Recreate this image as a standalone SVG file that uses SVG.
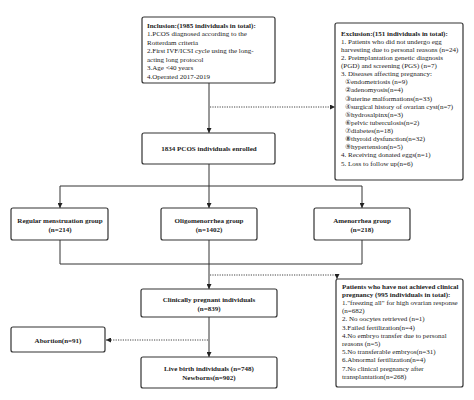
<svg xmlns="http://www.w3.org/2000/svg" width="474" height="400" viewBox="0 0 474 400">
<defs>
<marker id="ah" viewBox="0 0 10 10" refX="10" refY="5" markerWidth="5" markerHeight="5" orient="auto" markerUnits="userSpaceOnUse">
<path d="M0,0 L10,5 L0,10 z" fill="#222"/>
</marker>
</defs>
<style>
.box{fill:#fff;stroke:#333;stroke-width:1.2}
.ln{fill:none;stroke:#333;stroke-width:1}
.dt{fill:none;stroke:#444;stroke-width:1;stroke-dasharray:1.2 1.2}
text{font-family:"Liberation Serif","Times New Roman",serif;fill:#222;font-size:7px}
.b{font-weight:bold}
.c{text-anchor:middle}
</style>
<rect width="474" height="400" fill="#fff"/>
<g id="connectors">
<path class="ln" d="M209,83 V133" marker-end="url(#ah)"/>
<path class="dt" d="M210,107 H335" marker-end="url(#ah)"/>
<path class="ln" d="M209,164 V186"/>
<path class="ln" d="M60,186 H362"/>
<path class="ln" d="M60,186 V208" marker-end="url(#ah)"/>
<path class="ln" d="M209,186 V208" marker-end="url(#ah)"/>
<path class="ln" d="M362,186 V208" marker-end="url(#ah)"/>
<path class="ln" d="M60,240 V264 H362 V240"/>
<path class="ln" d="M209,240 V289" marker-end="url(#ah)"/>
<path class="dt" d="M210,275 H337 V279" marker-end="url(#ah)"/>
<path class="ln" d="M209,317 V357" marker-end="url(#ah)"/>
<path class="dt" d="M208,340 H106" marker-end="url(#ah)"/>
</g>
<g id="inclusion">
<rect class="box" x="142" y="17" width="133" height="66" rx="2"/>
<text x="147" y="27.5" class="b">Inclusion:(1985 individuals in total):</text>
<text x="147" y="36">1.PCOS diagnosed according to the</text>
<text x="147" y="44.5">Rotterdam criteria</text>
<text x="147" y="53">2.First IVF/ICSI cycle using the long-</text>
<text x="147" y="61.5">acting long protocol</text>
<text x="147" y="70">3.Age &lt;40 years</text>
<text x="147" y="78.5">4.Operated 2017-2019</text>
</g>
<g id="exclusion">
<rect class="box" x="335" y="23" width="128" height="157" rx="2"/>
<text x="341" y="35.5" class="b">Exclusion:(151 individuals in total):</text>
<text x="341" y="43.6">1. Patients who did not undergo egg</text>
<text x="341" y="51.7">harvesting due to personal reasons (n=24)</text>
<text x="341" y="59.9">2. Preimplantation genetic diagnosis</text>
<text x="341" y="68">(PGD) and screening (PGS) (n=7)</text>
<text x="341" y="76.1">3. Diseases affecting pregnancy:</text>
<text x="345" y="84.3">①endometriosis (n=9)</text>
<text x="345" y="92.4">②adenomyosis(n=4)</text>
<text x="345" y="100.5">③uterine malformations(n=33)</text>
<text x="345" y="108.6">④surgical history of ovarian cyst(n=7)</text>
<text x="345" y="116.8">⑤hydrosalpinx(n=3)</text>
<text x="345" y="124.9">⑥pelvic tuberculosis(n=2)</text>
<text x="345" y="133">⑦diabetes(n=18)</text>
<text x="345" y="141.1">⑧thyroid dysfunction(n=32)</text>
<text x="345" y="149.3">⑨hypertension(n=5)</text>
<text x="341" y="157.4">4. Receiving donated eggs(n=1)</text>
<text x="341" y="165.5">5. Loss to follow up(n=6)</text>
</g>
<g id="enrolled">
<rect class="box" x="142" y="133" width="133" height="31" rx="2"/>
<text x="209" y="151" class="b c">1834 PCOS individuals  enrolled</text>
</g>
<g id="regular">
<rect class="box" x="11" y="208" width="97" height="32" rx="2"/>
<text x="60" y="223" class="b c">Regular menstruation group</text>
<text x="60" y="232" class="b c">(n=214)</text>
</g>
<g id="oligo">
<rect class="box" x="161" y="208" width="96" height="32" rx="2"/>
<text x="209" y="223" class="b c">Oligomenorrhea group</text>
<text x="209" y="232" class="b c">(n=1402)</text>
</g>
<g id="ameno">
<rect class="box" x="314" y="208" width="96" height="32" rx="2"/>
<text x="362" y="223" class="b c">Amenorrhea group</text>
<text x="362" y="232" class="b c">(n=218)</text>
</g>
<g id="pregnant">
<rect class="box" x="141" y="289" width="136" height="28" rx="2"/>
<text x="209" y="301.5" class="b c">Clinically pregnant individuals</text>
<text x="209" y="310.5" class="b c">(n=839)</text>
</g>
<g id="notpregnant">
<rect class="box" x="336" y="279" width="127" height="108" rx="2"/>
<text x="342" y="288.5" class="b">Patients who have not achieved clinical</text>
<text x="342" y="296.7" class="b">pregnancy (995 individuals in total):</text>
<text x="342" y="304.9">1."freezing all" for high ovarian response</text>
<text x="342" y="313.1">(n=682)</text>
<text x="342" y="321.3">2. No oocytes retrieved (n=1)</text>
<text x="342" y="329.5">3.Failed fertilization(n=4)</text>
<text x="342" y="337.7">4.No embryo transfer due to personal</text>
<text x="342" y="345.9">reasons (n=5)</text>
<text x="342" y="354.1">5.No transferable embryos(n=31)</text>
<text x="342" y="362.3">6.Abnormal fertilization(n=4)</text>
<text x="342" y="370.5">7.No clinical pregnancy after</text>
<text x="342" y="378.7">transplantation(n=268)</text>
</g>
<g id="abortion">
<rect class="box" x="11" y="327" width="94" height="25" rx="2"/>
<text x="58" y="342.5" class="b c">Abortion(n=91)</text>
</g>
<g id="livebirth">
<rect class="box" x="141" y="357" width="136" height="31" rx="2"/>
<text x="209" y="370.5" class="b c">Live birth individuals (n=748)</text>
<text x="209" y="379.5" class="b c">Newborns(n=902)</text>
</g>
</svg>
